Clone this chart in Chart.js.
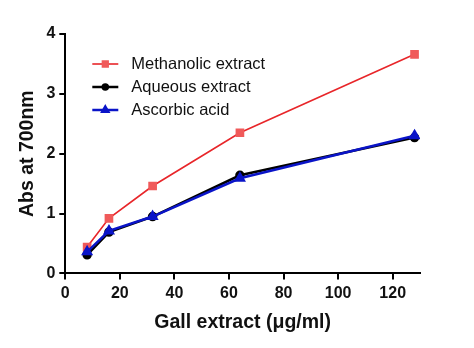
<!DOCTYPE html>
<html>
<head>
<meta charset="utf-8">
<script src="https://cdn.jsdelivr.net/npm/chart.js@4/dist/chart.umd.min.js"></script>
<style>
  html, body { margin: 0; padding: 0; background: #fff; }
  #wrap { width: 474px; height: 348px; }
</style>
</head>
<body>
<div id="wrap"><canvas id="chart" width="474" height="348"></canvas></div>
<script>
// concentrations (ug/ml)
const concentrations = [8, 16, 32, 64, 128];
// absorbance values
const methanolic = [0.44, 0.92, 1.46, 2.35, 3.66];
const aqueous = [0.31, 0.69, 0.95, 1.64, 2.27];
const ascorbic = [0.36, 0.71, 0.95, 1.59, 2.30];
const seriesNames = ['Methanolic extract', 'Aqueous extract', 'Ascorbic acid'];
const xTicks = [0, 20, 40, 60, 80, 100, 120];
const yTicks = [0, 1, 2, 3, 4];

const toPoints = (ys) => concentrations.map((x, i) => ({ x: x, y: ys[i] }));

// legend drawn inside the plot, top left
const insideLegend = {
  id: 'insideLegend',
  afterDraw(chart) {
    const ctx = chart.ctx;
    const area = chart.chartArea;
    const startX = area.left + 27;
    let y = area.top + 30;
    ctx.save();
    chart.data.datasets.forEach((ds) => {
      ctx.strokeStyle = ds.borderColor;
      ctx.lineWidth = ds.borderWidth;
      ctx.beginPath();
      ctx.moveTo(startX, y);
      ctx.lineTo(startX + 26, y);
      ctx.stroke();
      ctx.fillStyle = ds.pointBackgroundColor;
      ctx.strokeStyle = ds.pointBackgroundColor;
      Chart.helpers.drawPoint(ctx, {
        pointStyle: ds.pointStyle,
        radius: ds.pointRadius - 1,
        borderWidth: 1
      }, startX + 13, y);
      ctx.fillStyle = '#111';
      ctx.font = '16.5px "Liberation Sans", Arial, sans-serif';
      ctx.textBaseline = 'middle';
      ctx.textAlign = 'left';
      ctx.fillText(ds.label, startX + 39, y);
      y += 23;
    });
    ctx.restore();
  }
};

new Chart(document.getElementById('chart'), {
  type: 'line',
  data: {
    datasets: [
      {
        label: seriesNames[0],
        data: toPoints(methanolic),
        borderColor: '#e8262a',
        backgroundColor: '#f05a5a',
        pointBackgroundColor: '#f05a5a',
        pointBorderColor: '#f05a5a',
        borderWidth: 1.6,
        pointStyle: 'rect',
        pointRadius: 5,
        order: 2
      },
      {
        label: seriesNames[1],
        data: toPoints(aqueous),
        borderColor: '#000000',
        backgroundColor: '#000000',
        pointBackgroundColor: '#000000',
        pointBorderColor: '#000000',
        borderWidth: 2.5,
        pointStyle: 'circle',
        pointRadius: 3.5,
        order: 1
      },
      {
        label: seriesNames[2],
        data: toPoints(ascorbic),
        borderColor: '#0a14c8',
        backgroundColor: '#0a14c8',
        pointBackgroundColor: '#0a14c8',
        pointBorderColor: '#0a14c8',
        borderWidth: 2.5,
        pointStyle: 'triangle',
        pointRadius: 4.5,
        order: 0
      }
    ]
  },
  options: {
    responsive: false,
    animation: false,
    layout: { padding: { top: 34, right: 54, bottom: 14, left: 16 } },
    plugins: {
      legend: { display: false },
      tooltip: { enabled: false }
    },
    scales: {
      x: {
        type: 'linear',
        min: 0,
        max: 130,
        afterBuildTicks: (scale) => {
          scale.ticks = xTicks.map(v => ({ value: v }));
        },
        grid: { drawOnChartArea: false, drawTicks: true, tickLength: 6, color: '#000', lineWidth: 2 },
        border: { color: '#000', width: 2 },
        ticks: {
          color: '#111',
          padding: 5,
          font: { family: '"Liberation Sans", Arial, sans-serif', size: 16, weight: 'bold' }
        },
        title: {
          display: true,
          text: 'Gall extract (\u03bcg/ml)',
          color: '#111',
          padding: { top: 2, bottom: 0 },
          font: { family: '"Liberation Sans", Arial, sans-serif', size: 19.5, weight: 'bold' }
        }
      },
      y: {
        min: 0,
        max: 4,
        afterBuildTicks: (scale) => {
          scale.ticks = yTicks.map(v => ({ value: v }));
        },
        grid: { drawOnChartArea: false, drawTicks: true, tickLength: 6, color: '#000', lineWidth: 2 },
        border: { color: '#000', width: 2 },
        ticks: {
          color: '#111',
          padding: 4,
          font: { family: '"Liberation Sans", Arial, sans-serif', size: 16, weight: 'bold' }
        },
        title: {
          display: true,
          text: 'Abs at 700nm',
          color: '#111',
          padding: { top: 0, bottom: 3 },
          font: { family: '"Liberation Sans", Arial, sans-serif', size: 19.5, weight: 'bold' }
        }
      }
    }
  },
  plugins: [insideLegend]
});
</script>
</body>
</html>
